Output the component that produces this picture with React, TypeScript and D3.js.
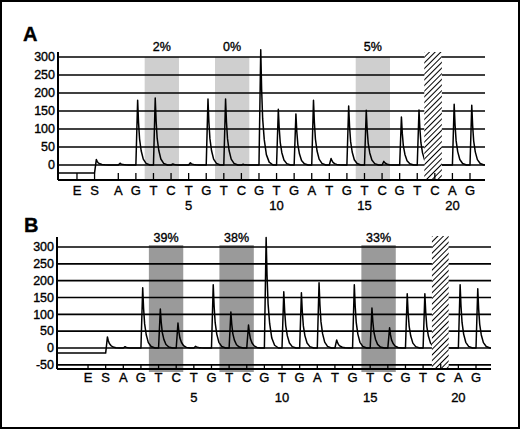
import * as d3 from "d3";

// dispensation order, E and S first
const dispensations = ["E", "S", "A", "G", "T", "C", "T", "G", "T", "C", "G", "T", "G", "A", "T", "G", "T", "C", "G", "T", "C", "A", "G"];
const cycleLabels = [5, 10, 15, 20];

// peak heights for S, then positions 1..21
const peaksA = [15, 5, 180, 186, 3, 6, 183, 183, 2, 320, 155, 142, 180, 18, 164, 152, 10, 133, 153, 0, 169, 166];
const peaksB = [33, 4, 179, 116, 74, 5, 188, 107, 68, 328, 167, 164, 194, 24, 188, 119, 60, 161, 161, 0, 188, 176];

const preBaseA = -22;
const preBaseB = -15;

// E, S positions in dispensation units (panel A has a gap before A)
const esPosA = [-1.35, -0.35];
const esPosB = [-1, 0];

const shadedA = [[2.5, 4.45], [6.5, 8.45], [14.5, 16.45]];
const shadedB = [[2.45, 4.4], [6.45, 8.4], [14.5, 16.45]];
const pctA = ["2%", "0%", "5%"];
const pctB = ["39%", "38%", "33%"];
const hatchA = [18.4, 19.4];
const hatchB = [18.5, 19.45];

const yTicksA = [0, 50, 100, 150, 200, 250, 300];
const yTicksB = [-50, 0, 50, 100, 150, 200, 250, 300];

// peak profile: offset in dispensation steps, fraction of height
const profT = [0, 0.1, 0.15, 0.21, 0.3, 0.42, 0.58, 0.8];
const profF = [0, 1, 0.66, 0.4, 0.22, 0.09, 0.025, 0];

const FONT = "'Liberation Sans', Arial, Helvetica, sans-serif";
const textInk = { fill: "#000", stroke: "#000", strokeWidth: 0.35 };

interface PanelProps {
  id: string;
  title: string;
  titleXY: [number, number];
  xRange: [number, number];
  yRange: [number, number];
  axisLeft: number;
  axisTop: number;
  axisY: number;
  gridRight: number;
  tickLen: number;
  shadeTop: number;
  shadeBottom: number;
  shadeFill: string;
  hatchTop: number;
  hatchBottom: number;
  letterY: number;
  numberY: number;
  pctY: number;
  peaks: number[];
  preBase: number;
  esPos: number[];
  shaded: number[][];
  pcts: string[];
  hatch: number[];
  yTicks: number[];
}

function Panel(p: PanelProps) {
  const x = d3.scaleLinear().domain([1, 21]).range(p.xRange);
  const y = d3.scaleLinear().domain([0, 300]).range(p.yRange);
  const step = x(2) - x(1);

  const positions = [...p.esPos, ...d3.range(1, 22)];
  const peakPos = positions.slice(1); // S onward

  // trace points
  const pts: [number, number][] = [];
  pts.push([p.axisLeft, y(p.preBase)]);
  pts.push([x(peakPos[0]) - 0.3, y(p.preBase)]);
  peakPos.forEach((pos, i) => {
    const v = p.peaks[i];
    const x0 = x(pos);
    profT.forEach((t, k) => {
      if (i === 0 && k === 0) {
        pts.push([x0, y(p.preBase)]);
        return;
      }
      pts.push([x0 + t * step, y(v * profF[k])]);
    });
  });
  pts.push([p.gridRight, y(0)]);
  const line = d3.line().curve(d3.curveLinear);
  const hx = x(p.hatch[0]);
  const hw = x(p.hatch[1]) - hx;

  return (
    <g>
      <text x={p.titleXY[0]} y={p.titleXY[1]} fontFamily={FONT} fontWeight="bold" fontSize={20} {...textInk}>
        {p.title}
      </text>
      {p.shaded.map((s, i) => (
        <g key={i}>
          <rect x={x(s[0])} y={p.shadeTop} width={x(s[1]) - x(s[0])} height={p.shadeBottom - p.shadeTop} fill={p.shadeFill} />
          <text x={(x(s[0]) + x(s[1])) / 2} y={p.pctY} textAnchor="middle" fontFamily={FONT} fontSize={12.5} {...textInk}>
            {p.pcts[i]}
          </text>
        </g>
      ))}
      {p.yTicks.map((t) => (
        <g key={t}>
          <line x1={p.axisLeft} x2={p.gridRight} y1={y(t)} y2={y(t)} stroke="#000" strokeWidth={1.7} />
          <text x={p.axisLeft - 3} y={y(t) + 4.3} textAnchor="end" fontFamily={FONT} fontSize={12.5} {...textInk}>
            {t}
          </text>
        </g>
      ))}
      <path d={line(pts) || ""} fill="none" stroke="#000" strokeWidth={1.5} strokeLinejoin="round" />
      <rect x={hx} y={p.hatchTop} width={hw} height={p.hatchBottom - p.hatchTop} fill="#fff" />
      <rect x={hx} y={p.hatchTop} width={hw} height={p.hatchBottom - p.hatchTop} fill={`url(#hatch${p.id})`} />
      <line x1={p.axisLeft} x2={p.axisLeft} y1={p.axisTop} y2={p.axisY} stroke="#000" strokeWidth={2} />
      <line x1={p.axisLeft} x2={p.gridRight} y1={p.axisY} y2={p.axisY} stroke="#000" strokeWidth={2} />
      {positions.map((pos, i) => (
        <g key={i}>
          <line x1={x(pos)} x2={x(pos)} y1={p.axisY - p.tickLen} y2={p.axisY} stroke="#000" strokeWidth={1.3} />
          <text x={x(pos)} y={p.letterY} textAnchor="middle" fontFamily={FONT} fontSize={13} {...textInk}>
            {dispensations[i]}
          </text>
        </g>
      ))}
      {cycleLabels.map((c) => (
        <text key={c} x={x(c)} y={p.numberY} textAnchor="middle" fontFamily={FONT} fontSize={13} {...textInk}>
          {c}
        </text>
      ))}
    </g>
  );
}

export default function App() {
  return (
    <svg width={520} height={429} style={{ position: "absolute", left: 0, top: 0, background: "#fff" }}>
      <defs>
        {["A", "B"].map((id) => (
          <pattern key={id} id={`hatch${id}`} patternUnits="userSpaceOnUse" width={4} height={4} patternTransform="rotate(45)">
            <line x1={0} y1={0} x2={0} y2={4} stroke="#000" strokeWidth={2} />
          </pattern>
        ))}
      </defs>
      <rect x={0} y={0} width={520} height={429} fill="#fff" />
      <Panel
        id="A"
        title="A"
        titleXY={[23, 41]}
        xRange={[118.3, 470]}
        yRange={[165, 57]}
        axisLeft={58}
        axisTop={52}
        axisY={180}
        gridRight={485}
        tickLen={7}
        shadeTop={57}
        shadeBottom={180}
        shadeFill="#cfcfcf"
        hatchTop={52}
        hatchBottom={179}
        letterY={195}
        numberY={210}
        pctY={51}
        peaks={peaksA}
        preBase={preBaseA}
        esPos={esPosA}
        shaded={shadedA}
        pcts={pctA}
        hatch={hatchA}
        yTicks={yTicksA}
      />
      <Panel
        id="B"
        title="B"
        titleXY={[24, 232]}
        xRange={[123.3, 476]}
        yRange={[348, 247]}
        axisLeft={57}
        axisTop={237}
        axisY={369}
        gridRight={491}
        tickLen={5}
        shadeTop={245}
        shadeBottom={372}
        shadeFill="#9a9a9a"
        hatchTop={236}
        hatchBottom={369}
        letterY={382}
        numberY={402}
        pctY={242}
        peaks={peaksB}
        preBase={preBaseB}
        esPos={esPosB}
        shaded={shadedB}
        pcts={pctB}
        hatch={hatchB}
        yTicks={yTicksB}
      />
      <rect x={1} y={1} width={518} height={427} fill="none" stroke="#000" strokeWidth={2} />
    </svg>
  );
}
